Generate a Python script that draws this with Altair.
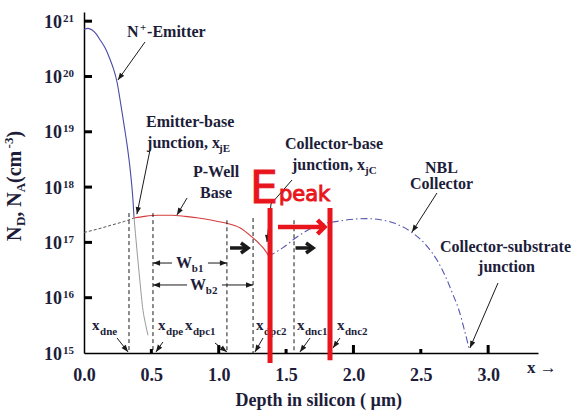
import math
import altair as alt
import pandas as pd

# ---------------- data ----------------
# N+ emitter profile (depth in um, log10 of doping)
emit_x = [0.00, 0.03, 0.06, 0.09, 0.12, 0.16, 0.19, 0.22, 0.245, 0.265, 0.282, 0.30, 0.32, 0.34, 0.355, 0.364, 0.371]
emit_log = [20.85, 20.87, 20.84, 20.77, 20.66, 20.50, 20.33, 20.13, 19.90, 19.62, 19.36, 19.08, 18.76, 18.38, 18.02, 17.75, 17.46]
# emitter tail hidden inside the base (grey)
tail_x = [0.371, 0.393, 0.415, 0.438, 0.457, 0.475]
tail_log = [17.46, 16.86, 16.30, 15.77, 15.52, 15.32]
# P-well base: part under the emitter (grey dashed) and the visible base (red)
pwl_x = [0.0, 0.1, 0.2, 0.3, 0.371]
pwl_log = [17.18, 17.24, 17.31, 17.38, 17.44]
base_x = [0.371, 0.45, 0.55, 0.65, 0.75, 0.85, 0.95, 1.05, 1.16, 1.25, 1.30, 1.33, 1.37]
base_log = [17.44, 17.47, 17.49, 17.49, 17.47, 17.44, 17.40, 17.35, 17.26, 17.09, 16.98, 16.90, 16.76]
# NBL collector
nbl_x = [1.37, 1.48, 1.57, 1.66, 1.75, 1.88, 2.00, 2.10, 2.20, 2.30, 2.44, 2.50, 2.55, 2.62, 2.68, 2.74, 2.78, 2.82, 2.86]
nbl_log = [16.75, 16.91, 17.08, 17.22, 17.32, 17.38, 17.42, 17.43, 17.41, 17.35, 17.17, 17.05, 16.92, 16.68, 16.40, 16.05, 15.80, 15.45, 15.07]

xtick_major = [1.0, 2.0, 3.0]
xtick_minor = [0.5, 1.5, 2.5]
xlabel_vals = [0.0, 0.5, 1.0, 1.5, 2.0, 2.5, 3.0]
ytick_exp = [16, 17, 18, 19, 20, 21]
ylabel_exp = [15, 16, 17, 18, 19, 20, 21]

# depletion edges (dashed)
edge_x = [0.334, 0.512, 1.061, 1.255, 1.559]
edge_top = [17.53, 17.53, 17.40, 17.44, 17.40]

# ---------------- layout / style ----------------
W, H = 454, 341
XMAX = 3.37
YLO, YHI = 15.0, 21.166
XS = W / XMAX
YS = H / (YHI - YLO)

FONT = "Liberation Serif"
TXT = "#1d1d3a"
BLUE = "#4a4aa6"
RED = "#d63c3c"
HAND = "#e8161c"
INK = "#1a1a1a"

xs = alt.Scale(domain=[0, XMAX], nice=False, zero=False)
ys = alt.Scale(type="log", domain=[10 ** YLO, 10 ** YHI], nice=False)
xaxis = alt.Axis(values=xlabel_vals, format=".1f", ticks=False, tickSize=0, grid=False,
                 domainColor="black", domainWidth=1.5, labelFont=FONT, labelFontWeight="bold",
                 labelFontSize=18, labelColor=TXT, labelBaseline="alphabetic", labelPadding=27,
                 labelFlush=False, title="Depth in silicon ( µm)", titleFont=FONT, titleFontSize=18,
                 titleFontWeight="bold", titleColor=TXT, titleX=151, titleY=52, titleAlign="left",
                 titleAnchor="start", titleBaseline="alphabetic")
yaxis = alt.Axis(labels=False, ticks=False, grid=False, domainColor="black", domainWidth=1.5, title=None)


def X(f="x"):
    return alt.X(f, type="quantitative", scale=xs, axis=xaxis)


def Y(f="n"):
    return alt.Y(f, type="quantitative", scale=ys, axis=yaxis)


def curve(xv, lv):
    return pd.DataFrame({"x": xv, "n": [10 ** v for v in lv]})


layers = []

# curves
layers.append(alt.Chart(curve(pwl_x, pwl_log)).mark_line(color="#555555", strokeWidth=1, strokeDash=[3, 2], interpolate="monotone").encode(x=X(), y=Y()))
layers.append(alt.Chart(curve(tail_x, tail_log)).mark_line(color="#9a9a9a", strokeWidth=1, interpolate="monotone").encode(x=X(), y=Y()))
layers.append(alt.Chart(curve(emit_x, emit_log)).mark_line(color=BLUE, strokeWidth=1.1, interpolate="monotone").encode(x=X(), y=Y()))
layers.append(alt.Chart(curve(base_x, base_log)).mark_line(color=RED, strokeWidth=1.1, interpolate="monotone").encode(x=X(), y=Y()))
layers.append(alt.Chart(curve(nbl_x, nbl_log)).mark_line(color="#5555b0", strokeWidth=1.1, strokeDash=[7, 3, 1.5, 3], interpolate="monotone").encode(x=X(), y=Y()))

# dashed depletion edges
edges = pd.DataFrame({"x": edge_x, "n": [10 ** v for v in edge_top], "n2": [10 ** YLO] * len(edge_x)})
layers.append(alt.Chart(edges).mark_rule(color=INK, strokeWidth=1, strokeDash=[4, 3]).encode(x=X(), y=Y(), y2="n2:Q"))

# axis ticks (pointing inward)
yt = pd.DataFrame({"n": [10 ** e for e in ytick_exp]})
layers.append(alt.Chart(yt).mark_rule(color="black", strokeWidth=3).encode(y=Y(), x=alt.value(0), x2=alt.value(8)))
layers.append(alt.Chart(pd.DataFrame({"x": xtick_major})).mark_rule(color="black", strokeWidth=3).encode(x=X(), y=alt.value(H), y2=alt.value(H - 8)))
layers.append(alt.Chart(pd.DataFrame({"x": xtick_minor})).mark_rule(color="black", strokeWidth=3).encode(x=X(), y=alt.value(H), y2=alt.value(H - 4)))

# y tick labels 10^e
yl = pd.DataFrame({"x": [-0.163] * len(ylabel_exp), "n": [10 ** e for e in ylabel_exp], "e": [str(e) for e in ylabel_exp]})
layers.append(alt.Chart(yl).mark_text(align="right", baseline="alphabetic", dy=6.5, font=FONT, fontWeight="bold", fontSize=18, color=TXT).encode(x=X(), y=Y(), text=alt.value("10")))
yl2 = yl.assign(x=-0.156)
layers.append(alt.Chart(yl2).mark_text(align="left", baseline="alphabetic", dy=0.5, font=FONT, fontWeight="bold", fontSize=11, color=TXT).encode(x=X(), y=Y(), text="e:N"))

# y axis title (rotated), pieces with sub/superscripts: (text, x, log-y, size)
ytitle = [("N", -0.468, 17.025, 20), ("D", -0.438, 17.295, 13), (", N", -0.468, 17.465, 20),
          ("A", -0.438, 17.905, 13), (" (cm", -0.468, 18.075, 20), ("-3", -0.527, 18.70, 13),
          (")", -0.468, 18.895, 20)]
ytd = pd.DataFrame({"t": [a[0] for a in ytitle], "x": [a[1] for a in ytitle],
                    "n": [10 ** a[2] for a in ytitle], "fs": [a[3] for a in ytitle]})
layers.append(alt.Chart(ytd).mark_text(align="left", baseline="alphabetic", angle=270, font=FONT, fontWeight="bold", color=TXT).encode(
    x=X(), y=Y(), text="t:N", size=alt.Size("fs:Q", scale=None, legend=None)))

# annotation texts: (text, x, log-y, size)
notes = [
    ("N", 0.319, 20.714, 16), ("+", 0.416, 20.823, 11), ("-Emitter", 0.468, 20.714, 16),
    ("Emitter-base", 0.460, 19.087, 16), ("junction, x", 0.468, 18.707, 16), ("jE", 1.002, 18.635, 11),
    ("P-Well", 0.809, 18.183, 16), ("Base", 0.861, 17.803, 16),
    ("Collector-base", 1.492, 18.689, 16), ("junction, x", 1.544, 18.309, 16), ("jC", 2.086, 18.237, 11),
    ("NBL", 2.531, 18.255, 16), ("Collector", 2.420, 17.966, 16),
    ("Collector-substrate", 2.643, 16.826, 16), ("junction", 2.925, 16.465, 16),
    ("x", 0.059, 15.416, 15), ("dne", 0.119, 15.326, 11),
    ("x", 0.549, 15.416, 15), ("dpe", 0.609, 15.326, 11),
    ("x", 0.750, 15.416, 15), ("dpc1", 0.809, 15.326, 11),
    ("x", 1.277, 15.416, 15), ("dpc2", 1.336, 15.326, 11),
    ("x", 1.581, 15.416, 15), ("dnc1", 1.640, 15.326, 11),
    ("x", 1.878, 15.416, 15), ("dnc2", 1.937, 15.326, 11),
    ("W", 0.683, 16.537, 16), ("b1", 0.800, 16.465, 11),
    ("W", 0.787, 16.139, 16), ("b2", 0.904, 16.067, 11),
    ("x \u2192", 3.288, 14.638, 17),
]
nd = pd.DataFrame({"t": [a[0] for a in notes], "x": [a[1] for a in notes],
                   "n": [10 ** a[2] for a in notes], "fs": [a[3] for a in notes]})
layers.append(alt.Chart(nd).mark_text(align="left", baseline="alphabetic", font=FONT, fontWeight="bold", color=TXT).encode(
    x=X(), y=Y(), text="t:N", size=alt.Size("fs:Q", scale=None, legend=None)))

# thin annotation arrows: segments (x1, log1, x2, log2, head)
arrows = [
    (0.453, 20.624, 0.252, 19.937, 1),
    (0.490, 18.671, 0.393, 17.510, 1),
    (0.765, 17.803, 0.690, 17.496, 1),
    (1.544, 18.128, 1.388, 17.694, 0), (1.388, 17.694, 1.358, 17.007, 1),
    (2.620, 17.893, 2.435, 17.188, 1),
    (3.073, 16.266, 2.865, 15.091, 1),
    (0.245, 15.271, 0.327, 15.019, 1),
    (0.586, 15.199, 0.534, 15.019, 1),
    (0.972, 15.181, 1.061, 15.019, 1),
    (1.329, 15.271, 1.269, 15.019, 1),
    (1.678, 15.271, 1.603, 15.019, 1),
    (1.900, 15.271, 1.848, 15.091, 1),
    # W arrows
    (0.653, 16.627, 0.512, 16.627, 1), (0.920, 16.627, 1.061, 16.627, 1),
    (0.765, 16.230, 0.512, 16.230, 1), (1.024, 16.230, 1.255, 16.230, 1),
]


def ang(a):
    dx = (a[2] - a[0]) * XS
    dy = -(a[3] - a[1]) * YS
    return math.degrees(math.atan2(dx, -dy)) % 360


ad = pd.DataFrame({"x": [a[0] for a in arrows], "n": [10 ** a[1] for a in arrows],
                   "x2": [a[2] for a in arrows], "n2": [10 ** a[3] for a in arrows]})
layers.append(alt.Chart(ad).mark_rule(color=INK, strokeWidth=1).encode(x=X(), y=Y(), x2="x2:Q", y2="n2:Q"))
heads = [a for a in arrows if a[4]]
hd = pd.DataFrame({"x": [a[2] for a in heads], "n": [10 ** a[3] for a in heads], "a": [ang(a) for a in heads]})
layers.append(alt.Chart(hd).mark_point(shape="M0,0L-0.38,1L0.38,1Z", filled=True, size=200, color=INK, opacity=1).encode(
    x=X(), y=Y(), angle=alt.Angle("a:Q", scale=None)))

# bold black arrows
bold = pd.DataFrame({"x": [1.084, 1.57], "x2": [1.217, 1.70], "n": [10 ** 16.899] * 2})
layers.append(alt.Chart(bold).mark_rule(color=INK, strokeWidth=3.5).encode(x=X(), x2="x2:Q", y=Y()))
layers.append(alt.Chart(bold).mark_point(shape="M-1.4,-1L0,0L-1.4,1", filled=False, size=100, strokeWidth=3.5, color=INK, opacity=1).encode(
    x=X("x2"), y=Y()))

# hand-drawn red E_peak marks
rv = pd.DataFrame({"x": [1.381, 1.826], "n": [10 ** 17.62] * 2, "n2": [10 ** 14.82, 10 ** 14.87]})
layers.append(alt.Chart(rv).mark_rule(color=HAND, strokeWidth=5).encode(x=X(), y=Y(), y2="n2:Q"))
ra = pd.DataFrame({"x": [1.44], "x2": [1.785], "n": [10 ** 17.278]})
layers.append(alt.Chart(ra).mark_rule(color=HAND, strokeWidth=4.5).encode(x=X(), x2="x2:Q", y=Y()))
layers.append(alt.Chart(ra).mark_point(shape="M-1,-1L0,0L-1,1", filled=False, size=196, strokeWidth=4.5, color=HAND, opacity=1).encode(
    x=X("x2"), y=Y()))
ep = pd.DataFrame({"t": ["E", "peak"], "x": [1.232, 1.447], "n": [10 ** 17.712, 10 ** 17.749], "fs": [44, 21]})
layers.append(alt.Chart(ep).mark_text(align="left", baseline="alphabetic", font="DejaVu Sans", color=HAND, stroke=HAND, strokeWidth=1.0).encode(
    x=X(), y=Y(), text="t:N", size=alt.Size("fs:Q", scale=None, legend=None)))

chart = alt.layer(*layers).properties(
    width=W, height=H,
    autosize=alt.AutoSizeParams(type="none"),
    padding={"left": 84, "top": 12, "right": 48, "bottom": 64},
    background="white",
).configure_view(stroke=None)

chart.save("out.html", embed_options={"renderer": "svg", "actions": False})
